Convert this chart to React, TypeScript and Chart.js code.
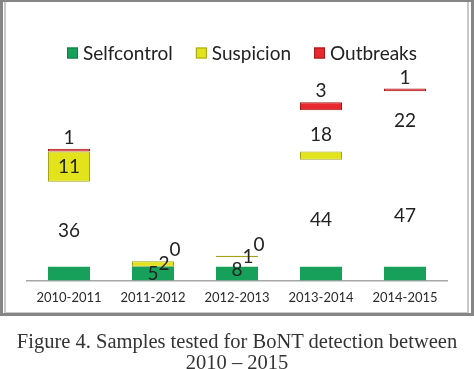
import React, { useEffect, useRef } from "react";
import { Chart, registerables } from "chart.js";

Chart.register(...registerables);

// ---- data ----
const categories = ["2010-2011", "2011-2012", "2012-2013", "2013-2014", "2014-2015"];
const seriesNames = ["Selfcontrol", "Suspicion", "Outbreaks"];
const selfcontrol = [36, 5, 8, 44, 47];
const suspicion = [11, 2, 1, 18, 22];
const outbreaks = [1, 0, 0, 3, 1];
// the part of each stacked segment that is actually painted in the picture (value units)
const selfcontrolShown: ([number, number] | null)[] = [[0, 5], [0, 5], [0, 5], [0, 5], [0, 5]];
const suspicionShown: ([number, number] | null)[] = [[36, 47], [5, 7], [8.4, 9], [44, 47], null];
const outbreaksShown: ([number, number] | null)[] = [[47, 48], null, null, [62, 65], [69, 70]];
const yMax = 80;

const FONT = "Lato, 'Open Sans', sans-serif";
const colors = ["#16a05a", "#e3e31c", "#e8282e"];
const borders = ["#0f7d44", "#a3a318", "#a01818"];

const valueLabelPlugin = {
  id: "valueLabels",
  afterDatasetsDraw(chart: any) {
    const { ctx, scales } = chart;
    const x = scales.x;
    const y = scales.y;
    const series = [
      { values: selfcontrol, above: false },
      { values: suspicion, above: false },
      { values: outbreaks, above: true },
    ];
    ctx.save();
    ctx.font = `19px ${FONT}`;
    ctx.fillStyle = "#222222";
    ctx.textAlign = "center";
    ctx.textBaseline = "middle";
    categories.forEach((_, i) => {
      const cx = x.getPixelForValue(i);
      let base = 0;
      let prevY: number | null = null;
      let shift = 0;
      series.forEach((s) => {
        const v = s.values[i];
        const ly = s.above ? y.getPixelForValue(base + v) - 11 : y.getPixelForValue(base + v / 2);
        if (prevY !== null && Math.abs(prevY - ly) < 15) shift += 11;
        ctx.fillText(String(v), cx + shift, ly);
        prevY = ly;
        base += v;
      });
    });
    ctx.restore();
  },
};

const legendPlugin = {
  id: "customLegend",
  afterDraw(chart: any) {
    const { ctx, chartArea } = chart;
    ctx.save();
    ctx.font = `19px ${FONT}`;
    const box = 11;
    const gapText = 5;
    const gapItem = 23;
    const widths = seriesNames.map((n) => box + gapText + ctx.measureText(n).width);
    const total = widths.reduce((a, b) => a + b, 0) + gapItem * (seriesNames.length - 1);
    let xPos = (chartArea.left + chartArea.right) / 2 + 5 - total / 2;
    const yc = 53;
    seriesNames.forEach((n, k) => {
      ctx.fillStyle = colors[k];
      ctx.fillRect(xPos, yc - box / 2, box, box);
      ctx.strokeStyle = borders[k];
      ctx.lineWidth = 1;
      ctx.strokeRect(xPos + 0.5, yc - box / 2 + 0.5, box - 1, box - 1);
      ctx.fillStyle = "#222222";
      ctx.textAlign = "left";
      ctx.textBaseline = "middle";
      ctx.fillText(n, xPos + box + gapText, yc + 1);
      xPos += widths[k] + gapItem;
    });
    ctx.restore();
  },
};

export default function App() {
  const canvasRef = useRef<HTMLCanvasElement | null>(null);

  useEffect(() => {
    if (!canvasRef.current) return;
    const shown = [selfcontrolShown, suspicionShown, outbreaksShown];
    const chart = new Chart(canvasRef.current, {
      type: "bar",
      data: {
        labels: categories,
        datasets: seriesNames.map((name, k) => ({
          label: name,
          data: shown[k] as any,
          backgroundColor: colors[k],
          borderColor: borders[k],
          borderWidth: k === 0 ? 0 : 1,
          borderSkipped: false,
          grouped: false,
          barPercentage: 0.5,
          categoryPercentage: 1,
        })),
      },
      options: {
        responsive: false,
        animation: false,
        devicePixelRatio: 1,
        layout: { padding: { left: 27, right: 27, top: 61, bottom: 0 } },
        plugins: { legend: { display: false }, tooltip: { enabled: false } },
        scales: {
          x: {
            grid: { display: false, drawTicks: false },
            border: { display: true, color: "#a6a6a6", width: 1.5 },
            ticks: { font: { family: FONT, size: 13 }, color: "#2a2a2a", padding: 10 },
          },
          y: { display: false, min: 0, max: yMax },
        },
      },
      plugins: [valueLabelPlugin, legendPlugin],
    });
    return () => chart.destroy();
  }, []);

  return (
    <div style={{ position: "absolute", left: 0, top: 0, width: 474, height: 369, background: "#fff" }}>
      <canvas
        ref={canvasRef}
        width={474}
        height={316}
        style={{ position: "absolute", left: 0, top: 0, width: 474, height: 316 }}
      />
      <div
        style={{
          position: "absolute", left: 0, top: 0, width: 474, height: 316, boxSizing: "border-box",
          border: "3px solid #858585", borderTopWidth: 2, pointerEvents: "none",
        }}
      />
      <div
        style={{
          position: "absolute", left: 4, top: 2, width: 465, height: 311, boxSizing: "border-box",
          borderLeft: "2px solid #c8c8c8", borderRight: "2px solid #c8c8c8", borderBottom: "1px solid #c8c8c8",
          pointerEvents: "none",
        }}
      />
      <div
        style={{
          position: "absolute", left: 0, top: 331, width: 474, textAlign: "center",
          fontFamily: "'Liberation Serif', 'Times New Roman', serif", fontSize: 20.5, lineHeight: "21px",
          color: "#333",
        }}
      >
        Figure 4. Samples tested for BoNT detection between
        <br />
        2010 – 2015
      </div>
    </div>
  );
}
